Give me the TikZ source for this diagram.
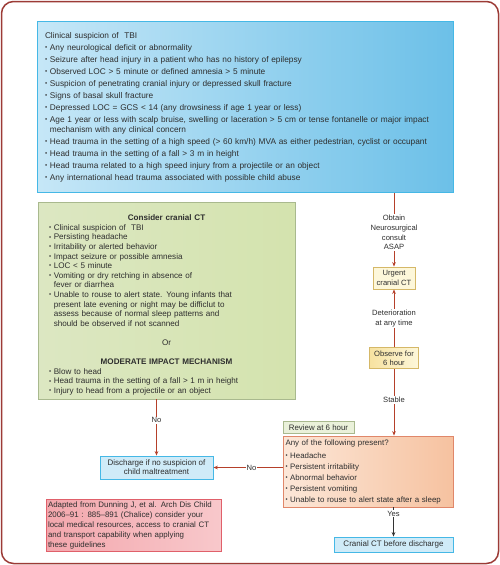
\documentclass[tikz,border=0pt]{standalone}
\usepackage{fontspec}
\setmainfont{Liberation Sans}
\usetikzlibrary{positioning,arrows.meta}

\definecolor{framered}{HTML}{9C3B36}
\definecolor{arrowred}{HTML}{B5402A}
\definecolor{txt}{HTML}{2E2E2E}
\definecolor{blueL}{HTML}{C6E7F7}
\definecolor{blueR}{HTML}{6CC0E8}
\definecolor{blueD}{HTML}{45B8E6}
\definecolor{greenL}{HTML}{DCE7C2}
\definecolor{greenM}{HTML}{EEF3E0}
\definecolor{greenR}{HTML}{D4E3AE}
\definecolor{greenD}{HTML}{A9B98E}
\definecolor{orangeL}{HTML}{FCE7D8}
\definecolor{orangeR}{HTML}{F6C2A0}
\definecolor{orangeD}{HTML}{E0876A}
\definecolor{yellowL}{HTML}{FDF7DA}
\definecolor{yellowM}{HTML}{F7E2A0}
\definecolor{yellowD}{HTML}{D5B868}
\definecolor{pinkL}{HTML}{F3A7AD}
\definecolor{pinkR}{HTML}{F8C8CB}
\definecolor{pinkD}{HTML}{E0606A}

\newcommand{\bul}{\raisebox{.2ex}{\scalebox{.75}{\textbullet}}\ }
\newcommand{\hang}{\hphantom{\bul}}
\newcommand{\midline}[1]{\makebox[\hsize]{#1}}

\begin{document}
\begin{tikzpicture}[x=1pt,y=-1pt,
		box/.style={rectangle, line width=.8pt, text=txt, inner ysep=1pt},
		tbibox/.style={box, draw=blueD, left color=blueL, right color=blueR,
			minimum width=416, minimum height=171, text width=400, align=left,
			font=\fontsize{8.3}{12}\selectfont},
		ctbox/.style={box, draw=greenD, left color=greenL, middle color=greenM, right color=greenR,
			minimum width=257, minimum height=197, text width=235, align=left,
			font=\fontsize{8.1}{9.6}\selectfont},
		dischargebox/.style={box, draw=blueD, fill=blueL!85,
			minimum width=113, minimum height=23, align=center,
			font=\fontsize{8}{9.2}\selectfont},
		cctbox/.style={dischargebox, minimum width=119, minimum height=15},
		presentbox/.style={box, draw=orangeD, left color=orangeL, right color=orangeR,
			minimum width=170, minimum height=71, text width=165, inner xsep=2.5, align=left,
			font=\fontsize{7.9}{11}\selectfont},
		reviewbox/.style={box, draw=greenD, fill=greenM!80!greenL,
			minimum width=71, minimum height=12, inner xsep=2, align=left,
			font=\fontsize{7.9}{9}\selectfont},
		urgentbox/.style={box, draw=yellowD, fill=yellowL,
			minimum width=42, minimum height=22, inner xsep=1, align=center,
			font=\fontsize{7.6}{9.4}\selectfont},
		observebox/.style={urgentbox, left color=yellowM, right color=yellowL, minimum width=49, minimum height=21},
		notebox/.style={box, draw=pinkD, left color=pinkL, right color=pinkR,
			minimum width=175, minimum height=52, text width=171, inner xsep=2, align=left,
			font=\fontsize{7.9}{10}\selectfont},
		edgelab/.style={fill=white, text=txt, inner sep=1pt, align=center,
			font=\fontsize{7.6}{9.7}\selectfont},
		redarrow/.style={draw=arrowred, line width=.9pt, -{Stealth[length=4.5pt,width=3.6pt]}},
		yesarrow/.style={redarrow, draw=black!80}
	]
	\useasboundingbox (0,0) rectangle (500,565);
	%% outer frame
	\draw[framered, line width=1.5pt, rounded corners=12pt] (1.5,1.5) rectangle (498.5,563.5);

	%% boxes
	\node[tbibox] (tbi) at (245,107) {Clinical suspicion of~ TBI\\
		\bul Any neurological deficit or abnormality\\
		\bul Seizure after head injury in a patient who has no history of epilepsy\\
		\bul Observed LOC > 5 minute or defined amnesia > 5 minute\\
		\bul Suspicion of penetrating cranial injury or depressed skull fracture\\
		\bul Signs of basal skull fracture\\
		\bul Depressed LOC = GCS < 14 (any drowsiness if age 1 year or less)\\
		\bul Age 1 year or less with scalp bruise, swelling or laceration > 5 cm or tense fontanelle or major impact\\[-2pt]
		\hang mechanism with any clinical concern\\
		\bul Head trauma in the setting of a high speed (> 60 km/h) MVA as either pedestrian, cyclist or occupant\\
		\bul Head trauma in the setting of a fall > 3 m in height\\
		\bul Head trauma related to a high speed injury from a projectile or an object\\
		\bul Any international head trauma associated with possible child abuse};

	\node[ctbox] (ct) at (166.5,300.5) {\rule{0pt}{15pt}\midline{\textbf{Consider cranial CT}}\\
		\bul Clinical suspicion of~ TBI\\
		\bul Persisting headache\\
		\bul Irritability or alerted behavior\\
		\bul Impact seizure or possible amnesia\\
		\bul LOC < 5 minute\\
		\bul Vomiting or dry retching in absence of\\
		\hang fever or diarrhea\\
		\bul Unable to rouse to alert state. Young infants that\\
		\hang present late evening or night may be difficlut to\\
		\hang assess because of normal sleep patterns and\\
		\hang should be observed if not scanned\\[9.6pt]
		\midline{Or}\\[9.6pt]
		\midline{\textbf{MODERATE IMPACT MECHANISM}}\\
		\bul Blow to head\\
		\bul Head trauma in the setting of a fall > 1 m in height\\
		\bul Injury to head from a projectile or an object};

	% right column
	\node[urgentbox] (urgent) at (394,278) {Urgent\\cranial CT};
	\node[observebox, below=58pt of urgent] (observe) {Observe for\\6 hour};
	\node[presentbox] (present) at (368,471.5) {Any of the following present?\\[2pt]
		\bul Headache\\
		\bul Persistent irritability\\
		\bul Abnormal behavior\\
		\bul Persistent vomiting\\
		\bul Unable to rouse to alert state after a sleep};
	\node[reviewbox, anchor=south west] (review) at ([yshift=2pt]present.north west) {Review at 6 hour};
	\node[cctbox] (cct) at (393.5,544.5) {Cranial CT before discharge};

	% left bottom
	\node[dischargebox] (discharge) at (156.5,467.5) {Discharge if no suspicion of\\child maltreatment};
	\node[notebox] (note) at (133.5,525) {Adapted from Dunning J, et al. Arch Dis Child\\
		2006--91 : 885--891 (Chalice) consider your\\
		local medical resources, access to cranial CT\\
		and transport capability when applying\\
		these guidelines};

	%% connectors
	\draw[redarrow] (tbi.south -| urgent.north) -- node[edgelab, pos=.54] {Obtain\\Neurosurgical\\consult\\ASAP} (urgent.north);
	\draw[redarrow] (observe.north) -- node[edgelab] {Deterioration\\at any time} (urgent.south);
	\draw[redarrow] (observe.south) -- node[edgelab, pos=.46] {Stable} (observe.south |- present.north);
	\draw[redarrow] (ct.south -| discharge.north) -- node[edgelab, pos=.37] {No} (discharge.north);
	\draw[redarrow] (present.west |- discharge.east) -- node[edgelab, pos=.45] {No} (discharge.east);
	\draw[yesarrow] (present.south -| cct.north) -- node[edgelab, pos=.22] {Yes} (cct.north);
\end{tikzpicture}
\end{document}
